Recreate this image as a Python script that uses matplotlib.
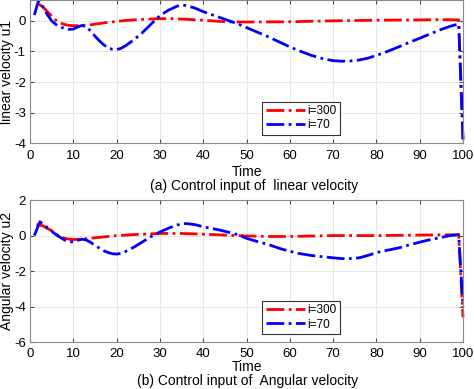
import matplotlib
matplotlib.use("Agg")
import matplotlib.pyplot as plt

plt.rcParams["font.family"] = ["Liberation Sans", "DejaVu Sans"]
plt.rcParams["axes.unicode_minus"] = False

# (a) linear velocity u1
t_u1_70 = [1, 2, 3, 4, 5, 6, 7, 8, 9, 10, 11, 12, 13, 14, 15, 16, 17, 18, 19, 20,
           21, 22, 24, 26, 28, 30, 32, 34, 35, 36, 38, 40, 42, 44, 46, 48, 50, 52,
           55, 58, 60, 62, 65, 68, 70, 72, 74, 76, 78, 80, 82, 85, 88, 90, 92, 95,
           97, 99, 100]
u1_70 = [0.19, 0.68, 0.45, 0.2, 0.0, -0.12, -0.2, -0.25, -0.28, -0.27, -0.2, -0.15,
         -0.2, -0.33, -0.5, -0.65, -0.78, -0.88, -0.93, -0.94, -0.9, -0.82, -0.62,
         -0.38, -0.1, 0.17, 0.35, 0.48, 0.51, 0.5, 0.42, 0.3, 0.2, 0.1, 0.0, -0.1,
         -0.22, -0.34, -0.52, -0.72, -0.85, -0.97, -1.13, -1.25, -1.3, -1.32, -1.31,
         -1.28, -1.22, -1.13, -1.03, -0.86, -0.68, -0.57, -0.45, -0.28, -0.18, -0.1,
         -3.9]
t_u1_300 = [2, 3, 4, 5, 6, 7, 8, 9, 10, 12, 14, 16, 18, 20, 22, 25, 28, 30, 33, 36,
            40, 45, 50, 60, 70, 80, 90, 95, 99, 100]
u1_300 = [0.55, 0.45, 0.3, 0.15, 0.02, -0.07, -0.12, -0.15, -0.16, -0.15, -0.13,
          -0.09, -0.05, -0.02, 0.01, 0.04, 0.06, 0.07, 0.07, 0.05, 0.02, -0.03,
          -0.04, -0.03, 0.0, 0.02, 0.03, 0.04, 0.03, -3.9]

# (b) angular velocity u2
t_u2_70 = [1, 2.3, 3, 4, 5, 6, 7, 8, 9, 10, 11, 12, 13, 14, 15, 16, 17, 18, 19, 20,
           21, 22, 24, 26, 28, 30, 32, 34, 36, 38, 40, 42, 44, 46, 48, 50, 52, 55,
           58, 60, 62, 65, 68, 70, 73, 76, 78, 80, 82, 85, 88, 90, 92, 95, 97, 99,
           100]
u2_70 = [0.0, 0.78, 0.65, 0.45, 0.25, 0.05, -0.1, -0.25, -0.35, -0.35, -0.27, -0.2,
         -0.25, -0.38, -0.55, -0.7, -0.85, -0.95, -1.02, -1.04, -1.0, -0.9, -0.65,
         -0.35, -0.05, 0.2, 0.42, 0.6, 0.68, 0.62, 0.5, 0.4, 0.3, 0.18, 0.05, -0.15,
         -0.3, -0.5, -0.75, -0.88, -1.0, -1.12, -1.2, -1.25, -1.31, -1.25, -1.12,
         -0.96, -0.85, -0.7, -0.5, -0.37, -0.25, -0.1, 0.0, 0.05, -4.0]
t_u2_300 = [1.5, 3, 4, 5, 6, 7, 8, 9, 10, 12, 14, 16, 18, 20, 25, 30, 35, 40, 45, 50,
            55, 60, 70, 80, 90, 95, 99, 100]
u2_300 = [0.62, 0.55, 0.4, 0.28, 0.1, -0.05, -0.15, -0.2, -0.22, -0.2, -0.15, -0.1,
          -0.05, 0.0, 0.07, 0.12, 0.12, 0.08, 0.03, -0.02, -0.05, -0.05, 0.0, 0.0,
          0.03, 0.04, 0.05, -4.6]

labels = ["i=300", "i=70"]
x_ticks = [0, 10, 20, 30, 40, 50, 60, 70, 80, 90, 100]

fig = plt.figure(figsize=(4.74, 3.89), dpi=100)
ax1 = fig.add_axes([0.0633, 0.6316, 0.9135, 0.3684])
ax2 = fig.add_axes([0.0633, 0.1200, 0.9135, 0.3658])


def style(ax, ylim, yticks, ylabel, tpad, xpad):
    ax.set_xlim(0, 100)
    ax.set_ylim(*ylim)
    ax.set_xticks(x_ticks)
    ax.set_yticks(yticks)
    ax.grid(True, color="#e3e3e3", linewidth=0.6)
    ax.set_axisbelow(True)
    ax.tick_params(direction="in", top=True, right=True, length=3,
                   color="#4d4d4d", labelsize=9.5)
    ax.tick_params(axis="x", pad=tpad)
    ax.tick_params(axis="y", pad=3)
    for sp in ax.spines.values():
        sp.set_color("#8a8a8a")
        sp.set_linewidth(0.8)
    ax.set_ylabel(ylabel, fontsize=10)
    ax.yaxis.set_label_coords(-0.038, 0.5)
    ax.set_xlabel("Time", fontsize=10, labelpad=xpad)


for ax, t3, y3, t7, y7 in [(ax1, t_u1_300, u1_300, t_u1_70, u1_70),
                           (ax2, t_u2_300, u2_300, t_u2_70, u2_70)]:
    ax.plot(t3, y3, color="#ff0000", linestyle="-.", linewidth=2.0,
            label=labels[0], clip_on=False)
    ax.plot(t7, y7, color="#0000ff", linestyle="-.", linewidth=2.0,
            label=labels[1], clip_on=False)

style(ax1, (-4, 0.68), [-4, -3, -2, -1, 0], "linear velocity u1", 5, 2)
style(ax2, (-6, 2), [-6, -4, -2, 0, 2], "Angular velocity u2", 4, 0)

for ax, y0 in [(ax1, 0.058), (ax2, 0.058)]:
    leg = ax.legend(loc="lower left", bbox_to_anchor=(0.536, y0), fontsize=8.5,
                    handlelength=3.3, handletextpad=0.25, borderpad=0.3,
                    labelspacing=0.2, borderaxespad=0, fancybox=False,
                    framealpha=1)
    leg.get_frame().set_edgecolor("#333333")
    leg.get_frame().set_linewidth(0.8)

fig.text(254 / 474, 1 - 186 / 389, "(a) Control input of  linear velocity",
         ha="center", va="center", fontsize=10)
fig.text(248 / 474, 1.5 / 389, "(b) Control input of  Angular velocity",
         ha="center", va="bottom", fontsize=10)

fig.savefig("out.png", dpi=100)
